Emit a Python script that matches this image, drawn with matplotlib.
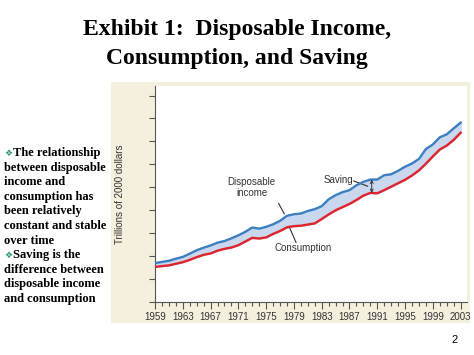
import matplotlib.pyplot as plt
from matplotlib.patches import Rectangle
from matplotlib.ticker import MultipleLocator

# Real disposable income and consumption, trillions of 2000 dollars
years = list(range(1959, 2004))
disposable_income = [1.70, 1.75, 1.80, 1.89, 1.97, 2.11, 2.26, 2.37, 2.47, 2.59,
                     2.66, 2.78, 2.91, 3.06, 3.25, 3.20, 3.28, 3.39, 3.54, 3.76,
                     3.83, 3.86, 3.97, 4.05, 4.18, 4.48, 4.66, 4.79, 4.88, 5.09,
                     5.24, 5.34, 5.34, 5.53, 5.57, 5.72, 5.90, 6.04, 6.24, 6.67,
                     6.87, 7.18, 7.31, 7.57, 7.82]
consumption = [1.53, 1.57, 1.60, 1.67, 1.74, 1.84, 1.96, 2.06, 2.12, 2.24,
               2.32, 2.38, 2.48, 2.64, 2.80, 2.77, 2.82, 2.97, 3.10, 3.26,
               3.31, 3.33, 3.38, 3.43, 3.62, 3.82, 4.00, 4.14, 4.28, 4.45,
               4.64, 4.76, 4.74, 4.88, 5.03, 5.18, 5.33, 5.52, 5.74, 6.03,
               6.35, 6.65, 6.82, 7.07, 7.38]
tick_years = list(range(1959, 2004, 4))

lines = ["The relationship", "between disposable", "income and", "consumption has",
         "been relatively", "constant and stable", "over time",
         "Saving is the", "difference between", "disposable income", "and consumption"]
bullet_rows = [0, 7]

fig = plt.figure(figsize=(4.74, 3.55), dpi=100)

# beige panel behind the chart
fig.patches.append(Rectangle((0.234, 0.090), 0.757, 0.679, transform=fig.transFigure,
                             facecolor='#f4f0dd', edgecolor='none', zorder=0))

fig.text(0.5, 0.877, "Exhibit 1:  Disposable Income,\nConsumption, and Saving",
         ha='center', va='center', fontsize=17, fontweight='bold',
         family='Liberation Serif', linespacing=1.5)

# left text with bullets, one line at a time
row_h = 14.6 / 355
y0 = 1 - 153 / 355
for i, t in enumerate(lines):
    x = 0.0275 if i in bullet_rows else 0.009
    fig.text(x, y0 - i * row_h, t, fontsize=9, fontweight='bold',
             family='Liberation Serif', va='center')
for i in bullet_rows:
    fig.text(0.008, y0 - i * row_h, "\u2756", fontsize=6.5, color='#2e9a6e',
             family='DejaVu Sans', va='center')

fig.text(0.96, 0.042, "2", fontsize=8, family='Liberation Sans', ha='center', va='center')

ax = fig.add_axes([0.327, 0.149, 0.658, 0.609], zorder=2)
ax.set_facecolor('white')
ax.fill_between(years, consumption, disposable_income, color='#c9d8ee', zorder=1)
ax.plot(years, disposable_income, color='#3d7fc1', lw=1.7, zorder=3)
ax.plot(years, consumption, color='#e0232c', lw=1.7, zorder=3)

ax.set_xlim(1959, 2003.9)
ax.set_ylim(0, 9.42)
ax.set_xticks(tick_years)
ax.xaxis.set_minor_locator(MultipleLocator(1))
ax.set_yticks(range(0, 10))
ax.set_yticklabels([])
ax.tick_params(axis='x', which='major', length=5, width=0.8, color='#555555',
               labelsize=7, labelcolor='#333333', pad=2)
ax.tick_params(axis='x', which='minor', length=3, width=0.8, color='#555555')
ax.tick_params(axis='y', length=4, width=0.8, color='#555555')
for lab in ax.get_xticklabels():
    lab.set_family('Liberation Sans')
for s in ['top', 'right']:
    ax.spines[s].set_visible(False)
for s in ['left', 'bottom']:
    ax.spines[s].set_color('#555555')
    ax.spines[s].set_linewidth(0.8)

ax.set_ylabel("Trillions of 2000 dollars", fontsize=7, color='#333333',
              family='Liberation Sans', labelpad=14)

# annotations
lab_kw = dict(fontsize=7, color='#333333', family='Liberation Sans', ha='center')
ax.text(1972.9, 4.98, "Disposable\nincome", va='center', linespacing=1.1, **lab_kw)
ax.plot([1976.8, 1977.6], [4.3, 3.85], color='#333333', lw=0.8)
ax.text(1980.3, 2.37, "Consumption", va='center', **lab_kw)
ax.plot([1978.3, 1979.3], [3.3, 2.6], color='#333333', lw=0.8)
ax.text(1985.4, 5.34, "Saving", va='center', **lab_kw)
ax.plot([1987.6, 1989.6], [5.28, 5.05], color='#333333', lw=0.8)
ax.annotate("", xy=(1990.2, 5.34), xytext=(1990.2, 4.76),
            arrowprops=dict(arrowstyle='<->', color='#333333', lw=0.7,
                            mutation_scale=5, shrinkA=0, shrinkB=0))

fig.savefig("out.png", dpi=100)
